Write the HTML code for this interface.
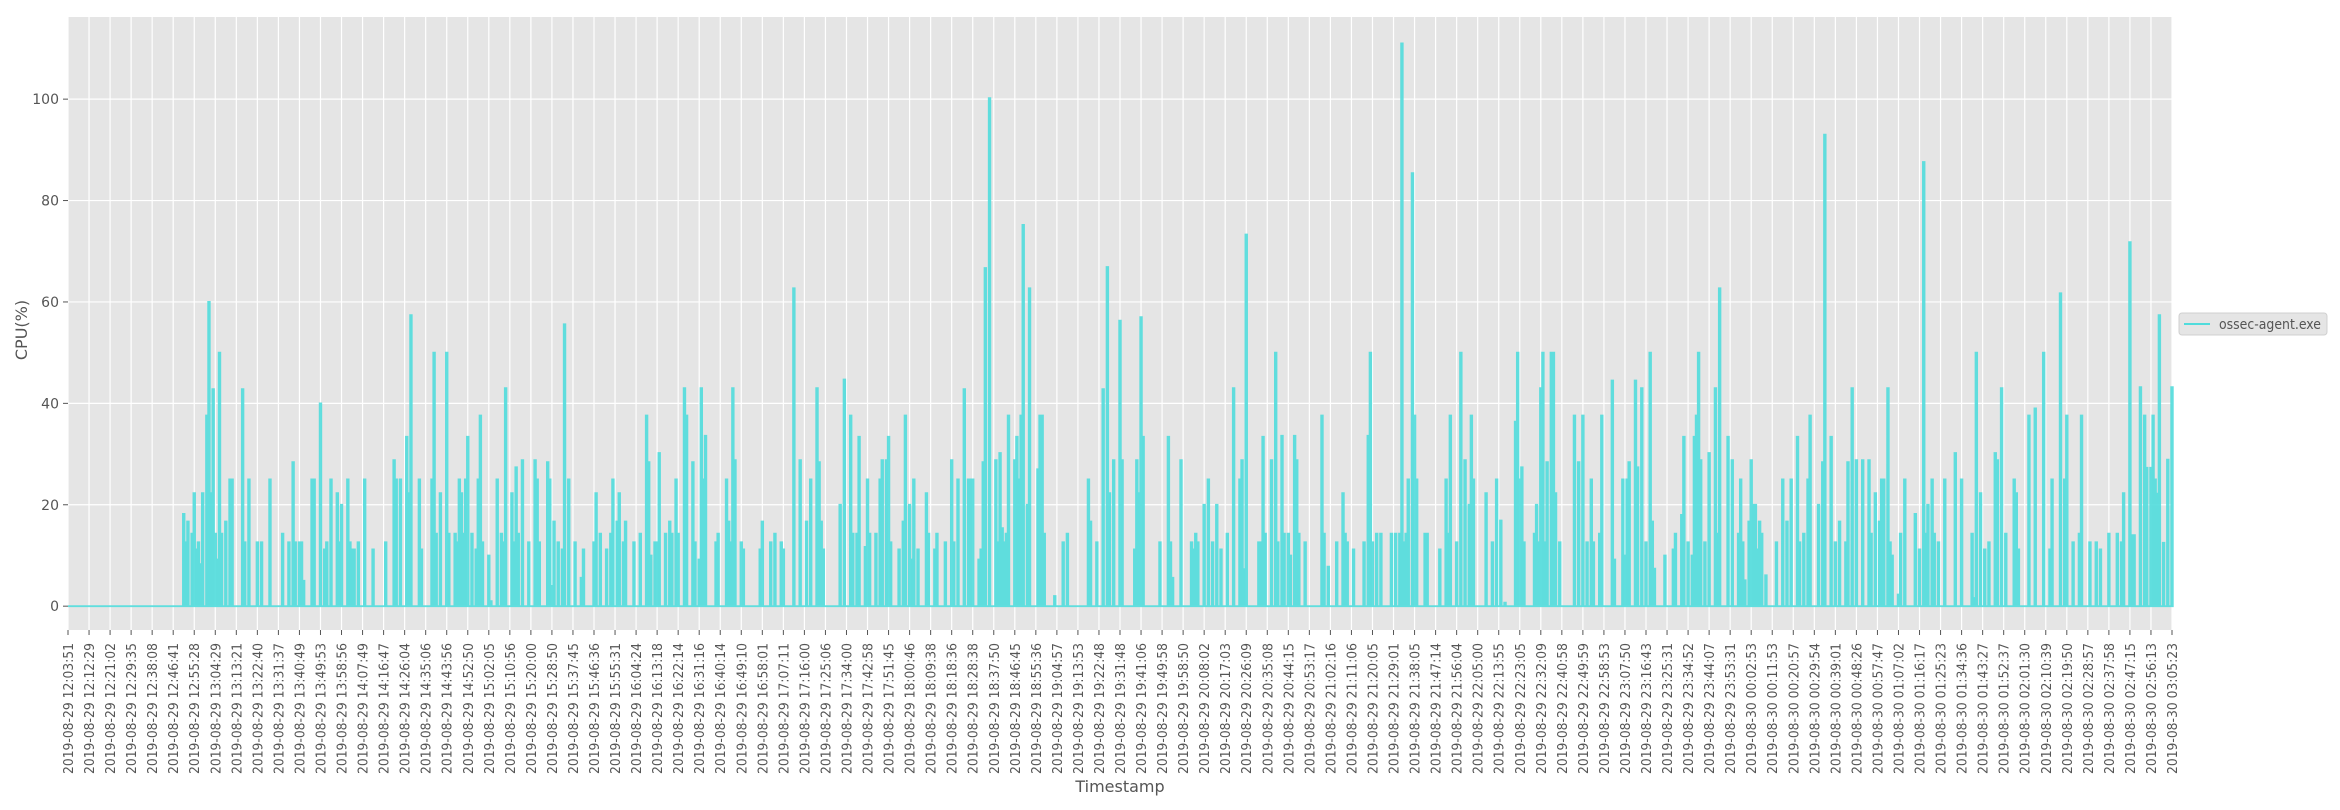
<!DOCTYPE html>
<html><head><meta charset="utf-8"><style>
html,body{margin:0;padding:0;background:#fff;}
svg{display:block;}
text{font-family:"DejaVu Sans","Liberation Sans",sans-serif;fill:#555;}
</style></head>
<body>
<svg id="chart" width="2340" height="810" viewBox="0 0 2340 810">
<rect x="68" y="17" width="2104" height="613" fill="#e5e5e5"/>
<g id="grid"></g><g id="series"></g><g id="axes"></g>
<text x="1120" y="792" font-size="16" text-anchor="middle">Timestamp</text>
<text x="0" y="0" font-size="16" text-anchor="middle" transform="translate(27,330) rotate(-90)">CPU(%)</text>
<g>
<rect x="2179" y="313" width="148" height="22" rx="3" fill="#e5e5e5" stroke="#d0d0d0"/>
<line x1="2184" y1="324" x2="2210" y2="324" stroke="#50dcdc" stroke-width="2"/>
<text x="2219" y="329" font-size="14" textLength="102" lengthAdjust="spacingAndGlyphs">ossec-agent.exe</text>
</g>
</svg>
<script>
const tickLabels = ["2019-08-29 12:03:51","2019-08-29 12:12:29","2019-08-29 12:21:02","2019-08-29 12:29:35","2019-08-29 12:38:08","2019-08-29 12:46:41","2019-08-29 12:55:28","2019-08-29 13:04:29","2019-08-29 13:13:21","2019-08-29 13:22:40","2019-08-29 13:31:37","2019-08-29 13:40:49","2019-08-29 13:49:53","2019-08-29 13:58:56","2019-08-29 14:07:49","2019-08-29 14:16:47","2019-08-29 14:26:04","2019-08-29 14:35:06","2019-08-29 14:43:56","2019-08-29 14:52:50","2019-08-29 15:02:05","2019-08-29 15:10:56","2019-08-29 15:20:00","2019-08-29 15:28:50","2019-08-29 15:37:45","2019-08-29 15:46:36","2019-08-29 15:55:31","2019-08-29 16:04:24","2019-08-29 16:13:18","2019-08-29 16:22:14","2019-08-29 16:31:16","2019-08-29 16:40:14","2019-08-29 16:49:10","2019-08-29 16:58:01","2019-08-29 17:07:11","2019-08-29 17:16:00","2019-08-29 17:25:06","2019-08-29 17:34:00","2019-08-29 17:42:58","2019-08-29 17:51:45","2019-08-29 18:00:46","2019-08-29 18:09:38","2019-08-29 18:18:36","2019-08-29 18:28:38","2019-08-29 18:37:50","2019-08-29 18:46:45","2019-08-29 18:55:36","2019-08-29 19:04:57","2019-08-29 19:13:53","2019-08-29 19:22:48","2019-08-29 19:31:48","2019-08-29 19:41:06","2019-08-29 19:49:58","2019-08-29 19:58:50","2019-08-29 20:08:02","2019-08-29 20:17:03","2019-08-29 20:26:09","2019-08-29 20:35:08","2019-08-29 20:44:15","2019-08-29 20:53:17","2019-08-29 21:02:16","2019-08-29 21:11:06","2019-08-29 21:20:05","2019-08-29 21:29:01","2019-08-29 21:38:05","2019-08-29 21:47:14","2019-08-29 21:56:04","2019-08-29 22:05:00","2019-08-29 22:13:55","2019-08-29 22:23:05","2019-08-29 22:32:09","2019-08-29 22:40:58","2019-08-29 22:49:59","2019-08-29 22:58:53","2019-08-29 23:07:50","2019-08-29 23:16:43","2019-08-29 23:25:31","2019-08-29 23:34:52","2019-08-29 23:44:07","2019-08-29 23:53:31","2019-08-30 00:02:53","2019-08-30 00:11:53","2019-08-30 00:20:57","2019-08-30 00:29:54","2019-08-30 00:39:01","2019-08-30 00:48:26","2019-08-30 00:57:47","2019-08-30 01:07:02","2019-08-30 01:16:17","2019-08-30 01:25:23","2019-08-30 01:34:36","2019-08-30 01:43:27","2019-08-30 01:52:37","2019-08-30 02:01:30","2019-08-30 02:10:39","2019-08-30 02:19:50","2019-08-30 02:28:57","2019-08-30 02:37:58","2019-08-30 02:47:15","2019-08-30 02:56:13","2019-08-30 03:05:23"];
const yTicks = [0,20,40,60,80,100];
const sampleCount = 1001;
const spikeIdx = [55,56,57,59,60,61,62,63,64,66,67,68,69,70,71,72,73,75,77,78,83,84,86,90,92,96,102,105,107,108,110,111,112,116,117,120,122,123,125,128,129,130,133,134,135,136,138,141,145,151,155,156,158,161,162,163,167,168,173,174,175,177,180,181,184,185,186,187,188,189,190,192,194,195,196,197,200,201,204,206,207,208,211,212,213,214,216,219,222,223,224,228,229,230,231,233,235,236,238,241,244,245,250,251,253,256,258,259,261,262,264,265,269,272,275,276,277,279,280,281,
284,286,287,289,290,293,294,297,298,300,301,302,303,308,309,313,314,315,316,317,320,321,329,330,334,336,339,340,345,348,351,353,356,357,358,359,367,369,372,373,375,376,379,380,381,384,386,387,389,390,391,395,397,398,400,401,402,404,408,409,412,413,417,420,421,423,426,428,429,430,433,434,435,436,438,441,442,443,444,445,446,447,450,451,452,453,454,456,457,461,462,463,464,469,473,475,485,486,489,492,494,495,497,500,501,507,508,509,510,511,
519,523,524,525,529,534,535,536,537,540,542,544,546,548,551,554,557,558,559,560,566,567,568,569,572,574,575,577,578,580,581,583,584,585,588,596,597,599,603,606,607,608,611,616,618,619,620,622,624,629,631,633,634,635,636,637,639,640,641,645,646,652,655,656,657,660,662,664,666,667,668,674,677,679,681,683,688,689,690,691,692,697,698,699,700,701,702,703,705,706,707,709,716,718,720,722,724,725,728,729,734,735,739,740,741,742,745,746,
748,750,752,753,754,759,763,764,767,768,770,772,773,774,775,776,778,780,783,784,785,789,791,794,795,796,797,799,800,801,802,803,804,805,807,812,815,817,819,822,823,825,827,828,832,834,835,838,840,842,845,846,848,850,853,856,857,859,861,862,863,865,866,867,870,871,873,878,880,882,883,884,886,887,889,892,897,900,905,906,907,909,911,913,916,917,919,921,925,926,927,932,935,939,942,943,947,949,950,953,956,957,961,964,966,970,974,976,977,980,
981,982,985,987,988,990,991,992,993,994,996,998,1000];
const spikeVal = [18.2,12.6,16.7,14.3,22.3,11.2,12.6,8.3,22.3,37.6,60,22.3,42.8,14.3,9.2,50,14.3,16.7,25,25,42.8,12.6,25,12.6,12.6,25,14.3,12.6,28.4,12.6,12.6,12.6,5,25,25,40,11.2,12.6,25,22.3,12.6,20,25,12.6,11.2,11.2,12.6,25,11.2,12.6,28.8,25,25,33.4,22.3,57.4,25,11.2,25,50,14.3,22.3,50,14.3,14.3,12.6,25,22.3,14.3,25,33.4,14.3,11.2,25,37.6,12.6,10,1,25,14.3,12.6,43,22.3,12.6,27.4,14.3,28.8,12.6,28.8,25,12.6,28.4,25,4,16.7,12.6,11.2,55.6,25,12.6,5.6,11.2,12.6,22.3,14.3,11.2,14.3,25,16.7,22.3,12.6,16.7,12.6,14.3,37.6,28.4,10,12.6,12.6,30.2,
14.3,16.7,14.3,25,14.3,43,37.6,28.4,12.6,9.2,43,25,33.6,12.6,14.3,25,16.7,12.6,43,28.8,12.6,11.2,11.2,16.7,12.6,14.3,12.6,11.2,62.7,28.8,16.7,25,43,28.4,16.7,11.2,20,44.7,37.6,14.3,14.3,33.4,11.7,25,14.3,14.3,25,28.8,28.8,33.4,12.6,11.2,16.7,37.6,20,9.2,25,11.2,22.3,14.3,11.2,14.3,12.6,28.8,12.6,25,42.8,25,25,25,9.2,11.2,28.4,66.7,100.2,28.8,12.6,30.2,15.4,12.6,14.3,37.6,28.8,33.4,25,37.6,75.2,20,62.7,27,37.6,37.6,14.3,2,12.6,14.3,25,16.7,12.6,42.8,66.9,22.3,28.8,56.3,28.8,11.2,28.8,22.3,57,33.4,
12.6,33.4,12.6,5.6,28.8,12.6,11.2,14.3,12.6,20,25,12.6,20,11.2,14.3,43,25,28.8,7.3,73.3,12.6,12.6,33.4,14.3,28.8,50,12.6,33.6,14.3,14.3,10,33.6,28.8,14.3,12.6,37.6,14.3,7.8,12.6,22.3,14.3,12.6,11.2,12.6,33.6,50,12.6,14.3,14.3,14.3,14.3,14.3,111,12.6,14.3,25,85.4,37.6,25,14.3,14.3,11.2,25,14.3,37.6,12.6,50,28.8,20,37.6,25,22.3,12.6,25,16.9,0.7,36.4,50,25,27.4,12.6,14.3,20,12.6,43,50,12.6,28.4,50,50,22.3,12.6,37.6,28.4,37.6,12.6,25,12.6,14.3,37.6,44.5,9.2,25,10,25,28.4,44.5,27.4,
43,12.6,50,16.7,7.4,10,11.2,14.3,18,33.4,12.6,10,33.4,37.6,50,28.8,12.6,30.2,43,14.3,62.7,33.4,28.8,14.3,25,12.6,5.1,16.7,28.8,20,20,11.2,16.7,14.3,6.1,12.6,25,16.7,25,33.4,12.6,14.3,25,37.6,20,28.4,93,33.4,12.6,16.7,12.6,28.4,43,28.8,28.8,28.8,14.3,22.3,16.7,25,25,43,12.6,10,2.3,14.3,25,18.2,11.2,87.6,14.3,20,25,14.3,12.6,25,30.2,25,14.3,1.6,50,22.3,11.2,12.6,30.2,28.8,43,14.3,25,22.3,11.2,37.6,39,50,11.2,25,61.7,25,37.6,12.6,14.3,37.6,12.6,12.6,11.2,14.3,14.3,12.6,22.3,71.8,
14,14,43.2,37.6,27.3,27.3,37.6,25,22.2,57.4,12.5,28.9,43.2];

const NS = "http://www.w3.org/2000/svg";
const L = 68, R = 2172, T = 17, B = 630, yMin = -4.7, yMax = 116.2;
function xScale(i){ return L + (R - L) * i / (sampleCount - 1); }
function yScale(v){ return B - (v - yMin) / (yMax - yMin) * (B - T); }
function mk(tag, attrs, parent){ const e = document.createElementNS(NS, tag); for (const k in attrs) e.setAttribute(k, attrs[k]); parent.appendChild(e); return e; }
const grid = document.getElementById('grid'), axes = document.getElementById('axes'), series = document.getElementById('series');
const step = (sampleCount - 1) / (tickLabels.length - 1);
tickLabels.forEach((lab, k) => {
  const x = xScale(k * step);
  const g = mk('line', {x1:x, x2:x, y1:T, y2:B, stroke:'#fff', 'stroke-width':1.2}, grid);
  
  
  const tk = mk('line', {x1:x, x2:x, y1:B, y2:B+5, stroke:'#555', 'stroke-width':1}, axes);
  
  
  const t = mk('text', {x:0, y:0, 'font-size':13, 'text-anchor':'end', textLength:131, lengthAdjust:'spacingAndGlyphs', transform:`translate(${x+5},${B+13}) rotate(-90)`}, axes);
  t.textContent = lab;
  
  
});
yTicks.forEach(v => {
  const y = yScale(v);
  const g = mk('line', {x1:L, x2:R, y1:y, y2:y, stroke:'#fff', 'stroke-width':1.2}, grid);
  
  
  const tk = mk('line', {x1:L-5, x2:L, y1:y, y2:y, stroke:'#555', 'stroke-width':1}, axes);
  
  
  const t = mk('text', {x:L-9, y:y+5, 'font-size':14, 'text-anchor':'end'}, axes);
  t.textContent = v;
  
  
});
// spikes drawn as narrow vertical pulses (dense sampling in the original)
const y0 = yScale(0);
let d = 'M' + L + ',' + y0.toFixed(2);
const order = spikeIdx.map((i, k) => k).sort((a, b) => spikeIdx[a] - spikeIdx[b]);
order.forEach(k => {
  const x = xScale(spikeIdx[k]);
  const y = yScale(spikeVal[k]);
  d += ' L' + (x - 0.8).toFixed(2) + ',' + y0.toFixed(2) + ' L' + (x - 0.8).toFixed(2) + ',' + y.toFixed(2) + ' L' + (x + 0.8).toFixed(2) + ',' + y.toFixed(2) + ' L' + (x + 0.8).toFixed(2) + ',' + y0.toFixed(2);
});
d += ' L' + R + ',' + y0.toFixed(2);
const line = mk('path', {d:d, fill:'none', stroke:'#50dcdc', 'stroke-opacity':0.9, 'stroke-width':1.8, 'stroke-linejoin':'miter'}, series);


</script>
</body></html>
